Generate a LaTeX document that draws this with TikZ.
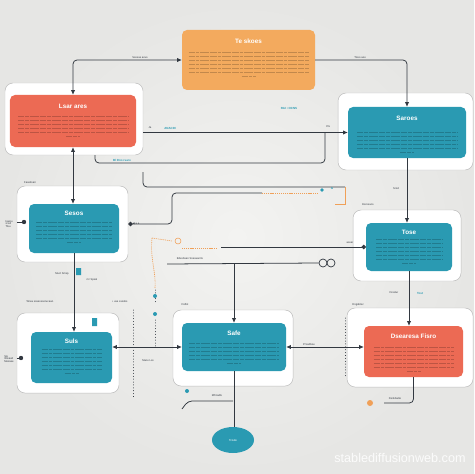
\documentclass[tikz,border=0pt]{standalone}
\usepackage{fontspec}
\setmainfont{Liberation Sans}
\newfontfamily\symfont{DejaVu Sans}
\usepackage{xcolor}
\usepackage{tikz}
\usetikzlibrary{positioning, arrows.meta, shapes.geometric}

\definecolor{bgin}{RGB}{243,243,241}
\definecolor{bgout}{RGB}{230,230,228}
\definecolor{tealc}{RGB}{42,154,178}
\definecolor{redc}{RGB}{236,106,84}
\definecolor{orangec}{RGB}{243,170,94}
\definecolor{linec}{RGB}{50,56,64}
\definecolor{framec}{RGB}{186,186,186}
\definecolor{dashc}{RGB}{240,160,88}

% fake body text: node, lines, half width, offset of first line
\newcommand\fakelines[4]{%
  \foreach \k in {1,...,#2}
    \draw[txtline] (#1.north) ++(-#3,#4+\k*4-4) -- ++(2*#3,0);
  \draw[txtline] (#1.north) ++(-7,#4+#2*4) -- ++(14,0);
}

\begin{document}
\begin{tikzpicture}[x=0.5mm, y=-0.5mm, >={Latex[length=2.4mm,width=2.2mm]},
    frame/.style={draw=framec, fill=white, rounded corners=4mm, line width=0.7pt},
    card/.style={rounded corners=2.5mm, inner sep=0pt},
    title/.style={text=white, font=\bfseries\fontsize{9}{9}\selectfont, inner sep=1pt},
    wire/.style={draw=linec, line width=1.1pt, rounded corners=2mm},
    tiny/.style={font=\fontsize{3.8}{4.2}\selectfont, text=linec, inner sep=0.5pt},
    tag/.style={font=\bfseries\fontsize{4.2}{4.2}\selectfont, text=tealc, inner sep=0.5pt},
    txtline/.style={draw=black, opacity=0.2, line width=0.7pt,
      dash pattern=on 9pt off 1.4pt on 5pt off 1.4pt on 13pt off 1.4pt},
    dotcol/.style={draw=linec, line width=1.3pt, dash pattern=on 0.1pt off 4pt, line cap=round},
    orangedots/.style={draw=dashc, line width=0.9pt, dash pattern=on 1.5pt off 1.2pt}]

    \useasboundingbox (0,0) rectangle (474,474);
    \shade[inner color=bgin, outer color=bgout] (0,0) rectangle (474,474);

    % boxes
    \node[card, fill=orangec, minimum width=66.5mm, minimum height=30mm] (top) at (248.5,60) {};
    \node[title, below=4.3mm of top.north] (topt) {Te skoes};
    \fakelines{top}{6}{60}{22}

    \node[frame, minimum width=69mm, minimum height=36mm] (lfr) at (74,119) {};
    \node[card, fill=redc, minimum width=63mm, minimum height=26mm] (lin) at (73,121) {};
    \node[title, below=4.4mm of lin.north] (lint) {Lsar ares};
    \fakelines{lin}{5}{55}{21}

    \node[frame, minimum width=67.5mm, minimum height=38.5mm] (rfr) at (405.5,131.5) {};
    \node[card, fill=tealc, minimum width=59mm, minimum height=25.5mm] (rin) at (407,132.5) {};
    \node[title, below=4.4mm of rin.north] (rint) {Saroes};
    \fakelines{rin}{5}{50}{25}

    \node[frame, minimum width=55.5mm, minimum height=38mm] (sfr) at (72.5,224) {};
    \node[card, fill=tealc, minimum width=45mm, minimum height=24.5mm] (sin) at (74,228.5) {};
    \node[title, below=3.4mm of sin.north] (sint) {Sesos};
    \fakelines{sin}{5}{38}{18}

    \node[frame, minimum width=54mm, minimum height=35.5mm] (tfr) at (407,245.5) {};
    \node[card, fill=tealc, minimum width=43mm, minimum height=24mm] (tin) at (409,247) {};
    \node[title, below=3.1mm of tin.north] (tint) {Tose};
    \fakelines{tin}{6}{33}{16}

    \node[frame, minimum width=51mm, minimum height=40mm] (ufr) at (68,353) {};
    \node[card, fill=tealc, minimum width=40.5mm, minimum height=25.5mm] (uin) at (71.5,357.5) {};
    \node[title, below=3.1mm of uin.north] (uint) {Suls};
    \fakelines{uin}{6}{30}{17}

    \node[frame, minimum width=60mm, minimum height=38mm] (afr) at (233,348) {};
    \node[card, fill=tealc, minimum width=52mm, minimum height=24mm] (ain) at (234,347) {};
    \node[title, below=3.4mm of ain.north] (aint) {Safe};
    \fakelines{ain}{5}{45}{20}

    \node[frame, minimum width=63mm, minimum height=39.5mm] (dfr) at (410,347.5) {};
    \node[card, fill=redc, minimum width=49.5mm, minimum height=25.5mm] (din) at (413.5,351.5) {};
    \node[title, below=3.4mm of din.north] (dint) {Dsearesa Fisro};
    \fakelines{din}{6}{40}{21}

    \node[ellipse, fill=tealc, minimum width=21mm, minimum height=13mm, inner sep=0pt,
          text=white, font=\fontsize{4}{4}\selectfont] (blob) at (233,440) {Tcisde};

    % free ends
    \coordinate (b0) at (95,155);
    \coordinate (bj) at (325,132.5);
    \coordinate (c0) at (143,172);
    \coordinate (c1) at (345,187);
    \coordinate (c2) at (345,204);
    \coordinate (d1) at (262,193);
    \coordinate (d2) at (318,193);
    \coordinate (g0) at (221,247);
    \coordinate (e0) at (167,264);
    \coordinate (m0) at (233,401);
    \coordinate (m1) at (182,409);
    \coordinate (k1) at (384,403);

    \node[circle, draw=linec, line width=1pt, minimum size=4mm, inner sep=0pt] (o1) at (323,263) {};
    \node[circle, draw=linec, line width=1pt, minimum size=4mm, inner sep=0pt] (o2) at (331,263) {};
    \node[circle, fill=linec, minimum size=2.2mm, inner sep=0pt] (sdot) at (24,222) {};
    \node[circle, fill=linec, minimum size=2.2mm, inner sep=0pt] (udot) at (21,358) {};

    % connectors
    \draw[wire, <->] (lin.north) |- (top.west);
    \draw[wire, ->] (top.east) -| (rin.north);
    \draw[wire, ->] (lfr.east |- rin.west) -- (rin.west);
    \draw[wire] (b0) |- (325,163) -- (bj);
    \draw[wire] (c0) |- (c1);
    \draw[draw=dashc, line width=1pt] (c1) -- (c2) -- ++(-10,0);
    \draw[wire, {Circle[length=2.2mm]}-] (sfr.east) -- (172,224) -- (172,193) -- (d1);
    \draw[orangedots] (d1) -- (d2);
    \draw[wire, -{Circle[length=2.2mm]}] (g0) -- (g0 -| tin.west);
    \draw[wire] (e0) -- (o1.west);
    \draw[wire, ->] (e0 -| ain.north) -- (ain.north);
    \draw[wire, <->] (lin.south) -- (lin.south |- sin.north);
    \draw[wire, ->] (sin.south) -- (sin.south |- uin.north);
    \draw[wire, ->] (rin.south) -- (rin.south |- tin.north);
    \draw[wire, ->] (tin.south) -- (tin.south |- din.north);
    \draw[wire, <->] (uin.east |- ain.west) -- (ain.west);
    \draw[wire, <->] (ain.east) -- (ain.east -| din.west);
    \draw[wire] (ain.south) -- (ain.south |- blob.north);
    \draw[wire] (m0) -- (188,401) -- (m1);
    \draw[wire] (din.south) |- (k1);
    \draw[wire] (sfr.west |- sdot) -- (sdot);
    \draw[wire] (ufr.west |- udot) -- (udot);

    % dotted trails
    \draw[orangedots] (152,238) .. controls (150,260) and (156,270) .. (155,288);
    \draw[orangedots] (152,238) -- (172,241);
    \draw[draw=dashc, line width=0.8pt] (178,241) circle (3);
    \draw[orangedots] (182,248) -- (218,248);
    \draw[dotcol] (155,290) -- (155,302);
    \draw[dotcol] (155,320) -- (155,346);
    \fill[tealc] (155,296) circle (2) (155,314) circle (2) (322,190) circle (1.8) (187,391) circle (2);
    \draw[dotcol] (133,310) -- (133,398);
    \draw[dotcol] (345,318) -- (345,378);
    \fill[tealc] (92,318) rectangle (97,326) (76,268) rectangle (81,275);
    \fill[dashc] (370,403) circle (3);

    % labels
    \node[tiny] (l1) at (140,58) {Ssosas aovo};
    \node[tiny] (l2) at (360,58) {Tisso aoo};
    \node[tag] (l3) at (289,108) {RAI • OCNS};
    \node[tiny] (l4) at (150,128) {Ja};
    \node[tag] (l5) at (170,128) {ANACDI};
    \node[tiny] (l6) at (328,127) {0\%};
    \node[tag] (l7) at (122,160) {Bl Dno rsaro};
    \node[tag] (l8) at (332,188) {G};
    \node[tiny] (l9) at (30,183) {Faseitsari};
    \node[tiny, align=left] (l10) at (9,224) {Isasiu\\sl sd\\Tlsu};
    \node[tiny] (l11) at (136,224) {{\symfont ◀} a a};
    \node[tiny] (l12) at (62,274) {Mucl Smsp};
    \node[tiny] (l13) at (92,280) {mr Spsal};
    \node[tiny] (l14) at (40,302) {Wrea sosessoorucaan};
    \node[tiny] (l15) at (120,302) {• use ssosbs};
    \node[tiny, align=left] (l16) at (9,359) {Sis\\Wisaod\\Mezase};
    \node[tiny] (l17) at (148,361) {Mace Lss};
    \node[tiny] (l18) at (190,259) {Edesbsan Snesaarnts};
    \node[tiny] (l19) at (350,243) {asoar};
    \node[tiny] (l20) at (368,205) {Esrosaco};
    \node[tiny] (l21) at (396,189) {Srod};
    \node[tiny] (l22) at (394,293) {Dreslur};
    \node[tag] (l23) at (420,293) {Tost};
    \node[tiny] (l24) at (358,305) {Dngdotsz};
    \node[tiny] (l25) at (185,305) {Dsftst};
    \node[tiny] (l26) at (309,345) {Pi'sartboe};
    \node[tiny] (l27) at (217,396) {Mfrcadls};
    \node[tiny] (l28) at (395,399) {Dsnkbatte};

    \node[text=white, opacity=0.85, font=\fontsize{18}{18}\selectfont] (wm) at (400,458) {stablediffusionweb.com};
\end{tikzpicture}
\end{document}
